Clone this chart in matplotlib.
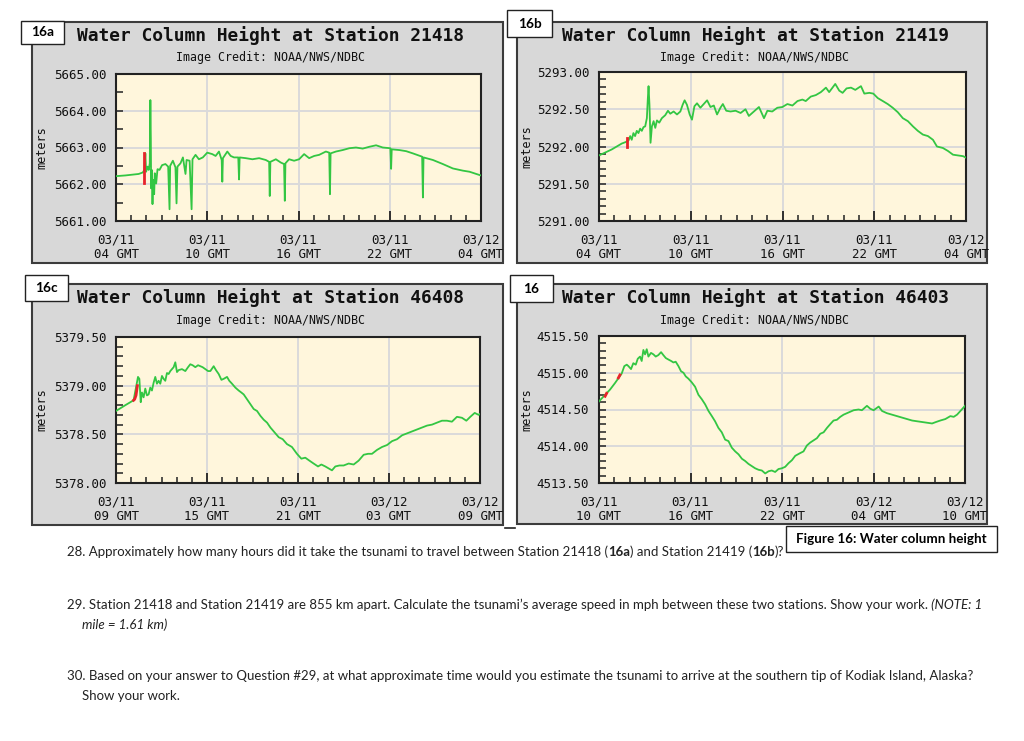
import numpy as np
import matplotlib
matplotlib.use("Agg")
import matplotlib.pyplot as plt
from matplotlib.patches import Rectangle
from matplotlib.ticker import MultipleLocator

W, H = 1024, 741
plt.rcParams["font.family"] = ["DejaVu Sans Mono"]

# 16a - station 21418, hours after 03/11 04 GMT
a_hours = [0.00, 0.62, 1.49, 1.76, 1.87, 1.93, 1.98, 2.07, 2.15, 2.22, 2.26, 2.29, 2.31, 2.35,
           2.40, 2.44, 2.51, 2.55, 2.64, 2.73, 2.86, 3.03, 3.25, 3.43, 3.52, 3.56, 3.74, 3.91,
           3.98, 4.04, 4.24, 4.40, 4.57, 4.64, 4.84, 4.97, 5.03, 5.23, 5.45, 5.71, 6.00, 6.33,
           6.55, 6.77, 6.95, 6.99, 7.03, 7.32, 7.54, 7.76, 8.04, 8.09, 8.13, 8.53, 8.97, 9.41,
           9.85, 10.07, 10.11, 10.15, 10.51, 10.84, 11.05, 11.10, 11.14, 11.38, 11.71, 12.04,
           12.37, 12.70, 13.03, 13.36, 13.80, 14.02, 14.07, 14.11, 14.46, 14.90, 15.34, 15.78,
           16.22, 16.66, 17.10, 17.54, 18.04, 18.09, 18.13, 18.64, 19.08, 19.52, 20.13, 20.18,
           20.22, 20.84, 21.49, 22.15, 22.81, 23.25, 23.91, 24.00]
a_height = [5662.22, 5662.24, 5662.28, 5662.32, 5662.39, 5662.84, 5662.34, 5662.48, 5662.39,
            5662.57, 5664.29, 5663.25, 5661.89, 5662.39, 5661.46, 5662.12, 5661.73, 5662.30,
            5662.02, 5662.41, 5662.39, 5662.52, 5662.55, 5662.48, 5661.32, 5662.50, 5662.64,
            5662.46, 5661.48, 5662.48, 5662.57, 5662.73, 5662.28, 5662.66, 5662.64, 5661.32,
            5662.68, 5662.80, 5662.68, 5662.73, 5662.86, 5662.82, 5662.77, 5662.89, 5662.66,
            5662.07, 5662.71, 5662.89, 5662.77, 5662.73, 5662.73, 5662.13, 5662.73, 5662.71,
            5662.68, 5662.71, 5662.66, 5662.61, 5661.68, 5662.61, 5662.68, 5662.59, 5662.55,
            5661.55, 5662.57, 5662.68, 5662.64, 5662.68, 5662.82, 5662.71, 5662.77, 5662.80,
            5662.89, 5662.86, 5661.73, 5662.84, 5662.89, 5662.93, 5662.98, 5663.00, 5662.97,
            5663.02, 5663.06, 5663.00, 5662.98, 5662.42, 5662.95, 5662.93, 5662.90, 5662.84,
            5662.75, 5661.64, 5662.73, 5662.66, 5662.55, 5662.43, 5662.37, 5662.34, 5662.25,
            5662.24]
a_red_hours = [1.82, 1.82]
a_red_height = [5662.04, 5662.86]
a_yticks = [5661.0, 5662.0, 5663.0, 5664.0, 5665.0]
a_xlabels = ["03/11\n04 GMT", "03/11\n10 GMT", "03/11\n16 GMT", "03/11\n22 GMT", "03/12\n04 GMT"]

# 16b - station 21419, hours after 03/11 04 GMT
b_hours = [0.00, 0.83, 1.49, 1.75, 1.93, 2.04, 2.14, 2.25, 2.36, 2.47, 2.58, 2.69, 2.80, 2.91,
           3.02, 3.13, 3.19, 3.24, 3.30, 3.37, 3.46, 3.57, 3.68, 3.79, 3.94, 4.11, 4.33, 4.51,
           4.66, 4.88, 5.10, 5.32, 5.47, 5.60, 5.75, 5.93, 6.08, 6.24, 6.41, 6.63, 6.85, 7.07,
           7.29, 7.51, 7.72, 7.94, 8.10, 8.32, 8.60, 8.93, 9.26, 9.58, 9.80, 10.13, 10.46,
           10.68, 10.79, 11.01, 11.33, 11.66, 11.99, 12.32, 12.65, 12.98, 13.30, 13.52, 13.85,
           14.18, 14.51, 14.84, 15.05, 15.27, 15.45, 15.71, 15.93, 16.19, 16.48, 16.76, 17.13,
           17.35, 17.68, 17.94, 18.23, 18.56, 18.88, 19.21, 19.54, 19.87, 20.20, 20.53, 20.85,
           21.18, 21.51, 21.84, 22.10, 22.49, 22.82, 23.15, 23.48, 23.81, 24.00]
b_height = [5291.88, 5291.96, 5292.04, 5292.06, 5292.08, 5292.14, 5292.09, 5292.18, 5292.14,
            5292.21, 5292.18, 5292.24, 5292.21, 5292.26, 5292.27, 5292.38, 5292.63, 5292.81,
            5292.56, 5292.05, 5292.27, 5292.34, 5292.25, 5292.35, 5292.32, 5292.38, 5292.42,
            5292.48, 5292.44, 5292.47, 5292.43, 5292.47, 5292.56, 5292.62, 5292.56, 5292.43,
            5292.36, 5292.54, 5292.58, 5292.52, 5292.57, 5292.62, 5292.53, 5292.55, 5292.43,
            5292.52, 5292.57, 5292.48, 5292.47, 5292.48, 5292.45, 5292.50, 5292.41, 5292.47,
            5292.53, 5292.43, 5292.38, 5292.48, 5292.47, 5292.52, 5292.53, 5292.57, 5292.55,
            5292.61, 5292.63, 5292.61, 5292.67, 5292.69, 5292.73, 5292.79, 5292.73, 5292.79,
            5292.84, 5292.75, 5292.72, 5292.78, 5292.79, 5292.76, 5292.81, 5292.71, 5292.72,
            5292.71, 5292.65, 5292.61, 5292.57, 5292.52, 5292.46, 5292.38, 5292.34, 5292.27,
            5292.21, 5292.16, 5292.14, 5292.09, 5292.00, 5291.98, 5291.94, 5291.89, 5291.88,
            5291.87, 5291.85]
b_red_hours = [1.84, 1.84]
b_red_height = [5292.00, 5292.12]
b_yticks = [5291.0, 5291.5, 5292.0, 5292.5, 5293.0]
b_xlabels = ["03/11\n04 GMT", "03/11\n10 GMT", "03/11\n16 GMT", "03/11\n22 GMT", "03/12\n04 GMT"]

# 16c - station 46408, hours after 03/11 09 GMT
c_hours = [0.00, 0.62, 1.16, 1.45, 1.54, 1.63, 1.71, 1.82, 1.93, 2.04, 2.15, 2.26, 2.37, 2.48,
           2.59, 2.70, 2.81, 2.92, 3.03, 3.14, 3.25, 3.36, 3.47, 3.58, 3.69, 3.80, 3.91, 4.02,
           4.13, 4.35, 4.57, 4.75, 4.90, 5.05, 5.23, 5.41, 5.56, 5.71, 5.89, 6.07, 6.22, 6.44,
           6.59, 6.77, 6.95, 7.10, 7.32, 7.47, 7.65, 7.87, 8.09, 8.26, 8.42, 8.64, 8.86, 9.08,
           9.30, 9.52, 9.74, 9.96, 10.18, 10.51, 10.73, 10.99, 11.27, 11.60, 11.93, 12.22,
           12.48, 12.75, 13.03, 13.32, 13.54, 13.80, 14.02, 14.24, 14.46, 14.73, 15.01, 15.34,
           15.67, 16.00, 16.33, 16.62, 16.88, 17.21, 17.54, 17.87, 18.20, 18.53, 18.86, 19.19,
           19.52, 19.85, 20.18, 20.51, 20.84, 21.16, 21.49, 21.82, 22.15, 22.48, 22.81, 23.10,
           23.36, 23.65, 23.91, 24.00]
c_height = [5378.74, 5378.80, 5378.85, 5379.09, 5379.07, 5378.83, 5378.93, 5378.88, 5378.97,
            5378.90, 5378.91, 5378.98, 5378.95, 5379.03, 5379.09, 5379.02, 5379.05, 5379.02,
            5379.10, 5379.07, 5379.05, 5379.13, 5379.12, 5379.15, 5379.17, 5379.19, 5379.24,
            5379.14, 5379.16, 5379.17, 5379.15, 5379.19, 5379.22, 5379.21, 5379.19, 5379.21,
            5379.20, 5379.19, 5379.17, 5379.15, 5379.15, 5379.20, 5379.16, 5379.12, 5379.06,
            5379.07, 5379.09, 5379.05, 5379.02, 5378.98, 5378.95, 5378.93, 5378.91, 5378.86,
            5378.81, 5378.76, 5378.74, 5378.69, 5378.65, 5378.62, 5378.57, 5378.51, 5378.47,
            5378.45, 5378.40, 5378.37, 5378.30, 5378.25, 5378.26, 5378.23, 5378.20, 5378.17,
            5378.19, 5378.17, 5378.15, 5378.13, 5378.17, 5378.18, 5378.18, 5378.20, 5378.19,
            5378.23, 5378.29, 5378.30, 5378.30, 5378.34, 5378.37, 5378.39, 5378.43, 5378.45,
            5378.49, 5378.51, 5378.53, 5378.55, 5378.57, 5378.59, 5378.60, 5378.62, 5378.64,
            5378.64, 5378.63, 5378.68, 5378.67, 5378.64, 5378.68, 5378.72, 5378.70, 5378.71]
c_red_hours = [1.16, 1.23, 1.32, 1.41]
c_red_height = [5378.85, 5378.86, 5378.90, 5379.00]
c_yticks = [5378.0, 5378.5, 5379.0, 5379.5]
c_xlabels = ["03/11\n09 GMT", "03/11\n15 GMT", "03/11\n21 GMT", "03/12\n03 GMT", "03/12\n09 GMT"]

# 16 - station 46403, hours after 03/11 10 GMT
d_hours = [0.00, 0.22, 0.72, 1.05, 1.49, 1.66, 1.82, 1.93, 2.10, 2.25, 2.41, 2.54, 2.69, 2.80,
           2.91, 3.02, 3.13, 3.24, 3.41, 3.57, 3.72, 3.89, 4.07, 4.22, 4.38, 4.55, 4.73, 4.88,
           5.03, 5.21, 5.38, 5.54, 5.69, 5.86, 6.08, 6.30, 6.52, 6.74, 6.96, 7.18, 7.40, 7.61,
           7.83, 8.05, 8.27, 8.49, 8.71, 8.93, 9.15, 9.37, 9.58, 9.80, 10.02, 10.24, 10.46,
           10.68, 10.90, 11.12, 11.33, 11.55, 11.77, 11.99, 12.21, 12.43, 12.65, 12.87, 13.13,
           13.41, 13.63, 13.85, 14.07, 14.29, 14.51, 14.73, 14.95, 15.16, 15.38, 15.60, 15.82,
           16.04, 16.37, 16.70, 17.02, 17.24, 17.57, 17.79, 18.01, 18.34, 18.56, 18.88, 19.21,
           19.54, 19.87, 20.20, 20.53, 20.85, 21.18, 21.51, 21.84, 22.10, 22.38, 22.71, 23.04,
           23.26, 23.48, 23.70, 24.00]
d_height = [4514.61, 4514.66, 4514.77, 4514.86, 4514.99, 4515.09, 4515.11, 4515.09, 4515.05,
            4515.13, 4515.11, 4515.19, 4515.22, 4515.16, 4515.31, 4515.25, 4515.32, 4515.22,
            4515.27, 4515.25, 4515.22, 4515.24, 4515.28, 4515.24, 4515.20, 4515.18, 4515.16,
            4515.14, 4515.15, 4515.09, 4515.02, 4515.00, 4514.95, 4514.92, 4514.87, 4514.81,
            4514.70, 4514.64, 4514.57, 4514.48, 4514.41, 4514.34, 4514.25, 4514.19, 4514.09,
            4514.07, 4513.98, 4513.93, 4513.89, 4513.83, 4513.80, 4513.76, 4513.73, 4513.70,
            4513.68, 4513.67, 4513.63, 4513.66, 4513.67, 4513.65, 4513.69, 4513.70, 4513.72,
            4513.77, 4513.81, 4513.87, 4513.90, 4513.93, 4514.01, 4514.05, 4514.08, 4514.11,
            4514.17, 4514.19, 4514.25, 4514.30, 4514.35, 4514.36, 4514.40, 4514.43, 4514.46,
            4514.49, 4514.50, 4514.49, 4514.55, 4514.51, 4514.49, 4514.54, 4514.48, 4514.45,
            4514.43, 4514.41, 4514.39, 4514.37, 4514.35, 4514.34, 4514.33, 4514.32, 4514.31,
            4514.33, 4514.35, 4514.37, 4514.41, 4514.40, 4514.43, 4514.48, 4514.55]
d_red_hours = [0.40, 0.50, np.nan, 1.27, 1.37]
d_red_height = [4514.68, 4514.72, np.nan, 4514.93, 4514.97]
d_yticks = [4513.5, 4514.0, 4514.5, 4515.0, 4515.5]
d_xlabels = ["03/11\n10 GMT", "03/11\n16 GMT", "03/11\n22 GMT", "03/12\n04 GMT", "03/12\n10 GMT"]

q28 = [("28. Approximately how many hours did it take the tsunami to travel between Station 21418 (", "normal", "normal"),
       ("16a", "bold", "normal"), (") and Station 21419 (", "normal", "normal"),
       ("16b", "bold", "normal"), (")?", "normal", "normal")]
q29 = [("29. Station 21418 and Station 21419 are 855 km apart. Calculate the tsunami\u2019s average speed in mph between these two stations. Show your work.", "normal", "normal"),
       (" (NOTE: 1", "normal", "italic")]
q29b = [("mile = 1.61 km)", "normal", "italic")]
q30 = [("30. Based on your answer to Question #29, at what approximate time would you estimate the tsunami to arrive at the southern tip of Kodiak Island, Alaska?", "normal", "normal")]
q30b = [("Show your work.", "normal", "normal")]

TEXT_FONT = ["Lato", "DejaVu Sans"]


def frac(x0, y0, x1, y1):
    return [x0 / W, 1 - y1 / H, (x1 - x0) / W, (y1 - y0) / H]


def box(fig, x0, y0, x1, y1, face, edge, lw, z):
    fig.add_artist(Rectangle((x0 / W, 1 - y1 / H), (x1 - x0) / W, (y1 - y0) / H,
                             transform=fig.transFigure, facecolor=face,
                             edgecolor=edge, lw=lw, zorder=z))


def panel(fig, outer, inner, tag, tag_box, station, hours, height, red_hours, red_height,
          yticks, yminor, xlabels):
    x0, y0, x1, y1 = outer
    box(fig, x0, y0, x1, y1, "#d8d8d8", "#3c3c3c", 1.5, -2)
    cx = (x0 + x1) / 2 + 3
    fig.text(cx / W, 1 - (y0 + 14) / H, "Water Column Height at Station " + station,
             ha="center", va="center", fontsize=12.9, weight="bold", color="#111")
    fig.text(cx / W, 1 - (y0 + 36) / H, "Image Credit: NOAA/NWS/NDBC",
             ha="center", va="center", fontsize=8.4, color="#111")
    fig.text((x0 + 10) / W, 1 - ((inner[1] + inner[3]) / 2) / H, "meters",
             rotation=90, ha="center", va="center", fontsize=8.6, color="#111")

    # label box in the corner
    tx0, ty0, tx1, ty1 = tag_box
    box(fig, tx0, ty0, tx1, ty1, "white", "#222", 1.0, 5)
    fig.text((tx0 + tx1) / 2 / W, 1 - (ty0 + ty1) / 2 / H, tag, ha="center", va="center",
             fontsize=9.8, weight="bold", family=TEXT_FONT, zorder=6)

    ax = fig.add_axes(frac(*inner))
    ax.set_facecolor("#fff6dc")
    ax.plot(hours, height, color="#33c643", lw=1.3, zorder=3)
    ax.plot(red_hours, red_height, color="#e8232b", lw=2.0, zorder=4)
    ax.set_xlim(0, 24)
    ax.set_ylim(yticks[0], yticks[-1])
    ax.set_xticks(range(0, 25, 6))
    ax.set_xticklabels(xlabels, linespacing=1.15)
    ax.xaxis.set_minor_locator(MultipleLocator(1))
    ax.set_yticks(yticks)
    ax.set_yticklabels([f"{v:.2f}" for v in yticks])
    ax.yaxis.set_minor_locator(MultipleLocator(yminor))
    ax.grid(True, which="major", color="#dadada", lw=1.4, zorder=1)
    ax.set_axisbelow(True)
    ax.tick_params(which="both", direction="in", colors="#222", labelsize=9,
                   labelcolor="#111")
    ax.tick_params(axis="x", which="major", length=7, width=1.3, pad=9)
    ax.tick_params(axis="x", which="minor", length=4, width=1.1)
    ax.tick_params(axis="y", which="both", length=5, width=1.1, pad=7)
    for s in ax.spines.values():
        s.set_color("#222")
        s.set_linewidth(1.5)
    return ax


def write_line(tax, x, y, pieces):
    prev = None
    for txt, weight, style in pieces:
        kw = dict(fontsize=9.55, family=TEXT_FONT, weight=weight, style=style, color="#222")
        if prev is None:
            prev = tax.text(x / W, 1 - y / H, txt, ha="left", va="baseline",
                            transform=tax.transAxes, **kw)
        else:
            prev = tax.annotate(txt, xy=(1, 0), xycoords=prev, ha="left", va="bottom", **kw)


fig = plt.figure(figsize=(W / 100, H / 100), dpi=100)
fig.patch.set_facecolor("white")

panel(fig, (32, 22, 503, 263), (116, 74, 481, 221), "16a", (21, 21, 64, 44), "21418",
      a_hours, a_height, a_red_hours, a_red_height, a_yticks, 0.5, a_xlabels)
panel(fig, (517, 22, 987, 263), (599, 72, 966, 221), "16b", (507, 10, 552, 37), "21419",
      b_hours, b_height, b_red_hours, b_red_height, b_yticks, 0.1, b_xlabels)
panel(fig, (32, 284, 503, 525), (116, 337, 480, 483), "16c", (25, 275, 68, 301), "46408",
      c_hours, c_height, c_red_hours, c_red_height, c_yticks, 0.1, c_xlabels)
panel(fig, (517, 284, 987, 524), (599, 336, 965, 483), "16", (510, 275, 553, 302), "46403",
      d_hours, d_height, d_red_hours, d_red_height, d_yticks, 0.1, d_xlabels)

# caption and stray dash under the panels
box(fig, 786, 526, 997, 552, "white", "#222", 1.0, 5)
fig.text(891.5 / W, 1 - 539 / H, "Figure 16: Water column height", ha="center", va="center",
         fontsize=9.6, weight="bold", family=TEXT_FONT, zorder=6)
fig.add_artist(plt.Line2D([505 / W, 515 / W], [1 - 528 / H, 1 - 528 / H],
                          transform=fig.transFigure, color="#222", lw=1.2))

# question text
tax = fig.add_axes([0, 0, 1, 1])
tax.axis("off")
tax.set_zorder(-5)
write_line(tax, 67, 556, q28)
write_line(tax, 67, 609, q29)
write_line(tax, 82, 629, q29b)
write_line(tax, 67, 680, q30)
write_line(tax, 82, 700, q30b)

fig.savefig("out.png", dpi=100)
